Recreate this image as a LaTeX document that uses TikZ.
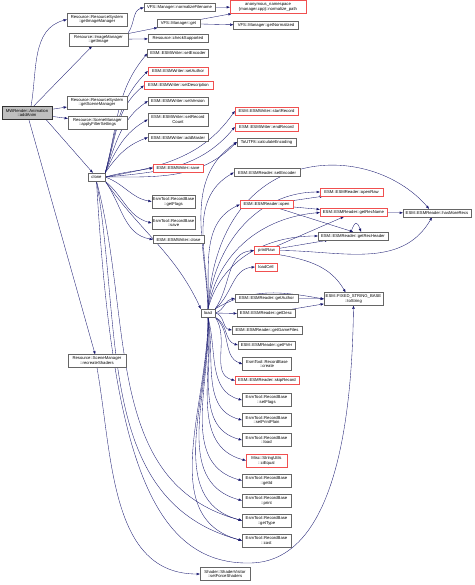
\documentclass[tikz,border=0pt]{standalone}
\usepackage{fontspec}
\setmainfont{Liberation Sans}
\usetikzlibrary{arrows.meta}
\definecolor{edgeblue}{RGB}{25,25,112}
\definecolor{redborder}{RGB}{240,80,80}
\pgfdeclarelayer{edges}
\pgfsetlayers{edges,main}
\begin{document}
\begin{tikzpicture}[x=1pt,y=1pt,
 nbox/.style={draw=black!60, fill=white, line width=0.4pt, font=\fontsize{4.2}{4.9}\selectfont, align=center, inner xsep=1pt, inner ysep=0.5pt, minimum height=8pt},
 tbox/.style={nbox, minimum height=13pt},
 rbox/.style={nbox, draw=redborder},
 rtbox/.style={tbox, draw=redborder},
 cg/.style={draw=edgeblue, line width=0.35pt, -{Triangle[length=3.2pt,width=2.4pt]}}]
\useasboundingbox (0,0) rectangle (474,-585);
% column 0/1
\node[tbox, fill=black!25, draw=black!80, minimum width=50pt] (root) at (27,-113) {MWRender::Animation\\::addAnim};
\node[tbox, minimum width=60pt] (gim) at (97,-19.5) {Resource::ResourceSystem\\::getImageManager};
\node[tbox, minimum width=59pt] (gimg) at (98.5,-39.5) {Resource::ImageManager\\::getImage};
\node[tbox, minimum width=60pt] (gsm) at (97,-102.5) {Resource::ResourceSystem\\::getSceneManager};
\node[tbox, minimum width=59pt] (afs) at (97.5,-122.5) {Resource::SceneManager\\::applyFilterSettings};
\node[nbox, minimum width=17pt] (clone) at (96.5,-177) {clone};
\node[tbox, minimum width=58pt] (rsh) at (97,-361) {Resource::SceneManager\\::recreateShaders};
\node[nbox, minimum width=14pt] (load) at (208,-313) {load};
\node[tbox, minimum width=50pt] (sfs) at (225,-574) {Shader::ShaderVisitor\\::setForceShaders};
% column 2
\node[nbox, minimum width=71pt] (nfn) at (179.5,-7.5) {VFS::Manager::normalizeFilename};
\node[nbox, minimum width=43pt] (vget) at (178.5,-23.5) {VFS::Manager::get};
\node[nbox, minimum width=60pt] (chk) at (178,-38.5) {Resource::checkSupported};
\node[nbox, minimum width=61pt] (wenc) at (178,-53.5) {ESM::ESMWriter::setEncoder};
\node[rbox, minimum width=60pt] (wauth) at (178,-71) {ESM::ESMWriter::setAuthor};
\node[rbox, minimum width=69pt] (wdesc) at (178.5,-85.5) {ESM::ESMWriter::setDescription};
\node[nbox, minimum width=60pt] (wver) at (178,-101) {ESM::ESMWriter::setVersion};
\node[tbox, minimum width=60pt] (wrc) at (178,-119.5) {ESM::ESMWriter::setRecord\\Count};
\node[nbox, minimum width=60pt] (wmas) at (178,-137.5) {ESM::ESMWriter::addMaster};
\node[rbox, minimum width=50pt] (wsave) at (178,-168) {ESM::ESMWriter::save};
\node[tbox, minimum width=39pt] (rgf) at (173.5,-201.5) {EsmTool::RecordBase\\::getFlags};
\node[tbox, minimum width=39pt] (rsave) at (173.5,-223) {EsmTool::RecordBase\\::save};
\node[nbox, minimum width=51pt] (wclose) at (178.5,-239.5) {ESM::ESMWriter::close};
% column 3
\node[rtbox, minimum width=76pt] (npath) at (268,-7) {anonymous\_namespace\\\{manager.cpp\}::normalize\_path};
\node[nbox, minimum width=65pt] (gnorm) at (266,-25.5) {VFS::Manager::getNormalized};
\node[rbox, minimum width=63pt] (wstart) at (266.5,-111) {ESM::ESMWriter::startRecord};
\node[rbox, minimum width=63pt] (wend) at (266.5,-127) {ESM::ESMWriter::endRecord};
\node[nbox, minimum width=59pt] (calc) at (266.5,-142) {ToUTF8::calculateEncoding};
\node[nbox, minimum width=66pt] (renc) at (267,-172.5) {ESM::ESMReader::setEncoder};
\node[rbox, minimum width=53pt] (ropen) at (266.5,-204.5) {ESM::ESMReader::open};
\node[rbox, minimum width=25pt] (praw) at (266.5,-250.5) {printRaw};
\node[rbox, minimum width=22pt] (lcell) at (266,-267) {loadCell};
\node[nbox, minimum width=63pt] (gauth) at (266.5,-298.5) {ESM::ESMReader::getAuthor};
\node[nbox, minimum width=58pt] (gdesc) at (266,-313.5) {ESM::ESMReader::getDesc};
\node[nbox, minimum width=70pt] (ggf) at (267,-330) {ESM::ESMReader::getGameFiles};
\node[nbox, minimum width=57pt] (gfver) at (266.5,-345) {ESM::ESMReader::getFVer};
\node[tbox, minimum width=49pt] (rcre) at (267,-364) {EsmTool::RecordBase\\::create};
\node[rbox, minimum width=64pt] (skip) at (267,-380.5) {ESM::ESMReader::skipRecord};
\node[tbox, minimum width=49pt] (rsf) at (266.5,-400) {EsmTool::RecordBase\\::setFlags};
\node[tbox, minimum width=49pt] (rspp) at (266.5,-420) {EsmTool::RecordBase\\::setPrintPlain};
\node[tbox, minimum width=49pt] (rload) at (266.5,-440) {EsmTool::RecordBase\\::load};
\node[rtbox, minimum width=41pt] (ciq) at (266.5,-460.5) {Misc::StringUtils\\::ciEqual};
\node[tbox, minimum width=49pt] (rgid) at (266.5,-480.5) {EsmTool::RecordBase\\::getId};
\node[tbox, minimum width=49pt] (rprint) at (266.5,-500.5) {EsmTool::RecordBase\\::print};
\node[tbox, minimum width=49pt] (rgt) at (266.5,-520.5) {EsmTool::RecordBase\\::getType};
\node[tbox, minimum width=49pt] (rcast) at (266.5,-540.5) {EsmTool::RecordBase\\::cast};
% column 4/5
\node[rbox, minimum width=63pt] (oraw) at (351.5,-192) {ESM::ESMReader::openRaw};
\node[rbox, minimum width=67pt] (grn) at (353.5,-212.5) {ESM::ESMReader::getRecName};
\node[nbox, minimum width=70pt] (grh) at (353,-236) {ESM::ESMReader::getRecHeader};
\node[tbox, minimum width=59pt] (tostr) at (353.5,-299) {ESM::FIXED\_STRING\_BASE\\::toString};
\node[nbox, minimum width=68pt] (hmr) at (437,-213) {ESM::ESMReader::hasMoreRecs};

\begin{pgfonlayer}{edges}
% root
\draw[cg] ([xshift=4pt]root.north) to[out=80,in=195] (gim.west);
\draw[cg] (root) -- (gimg);
\draw[cg] (root) -- (gsm);
\draw[cg] (root) -- (afs);
\draw[cg] ([xshift=-6pt]root.south east) -- (clone);
\draw[cg] (root) -- (rsh);
\draw[cg] (rsh.south) to[out=-80,in=180] (sfs.west);
% getImage
\draw[cg] (gimg.north east) to[out=55,in=195] (nfn.west);
\draw[cg] (gimg) -- (vget);
\draw[cg] (gimg) -- (chk);
\draw[cg] (vget) -- (npath);
\draw[cg] (vget) -- (gnorm);
\draw[cg] (nfn) -- (npath);
% clone
\draw[cg] (clone.north east) to[out=75,in=230] (wenc.west);
\draw[cg] (clone.north east) to[out=75,in=225] (wauth.west);
\draw[cg] (clone.north east) to[out=72,in=220] (wdesc.west);
\draw[cg] (clone.north east) to[out=70,in=215] (wver.west);
\draw[cg] (clone.north east) to[out=65,in=210] (wrc.west);
\draw[cg] (clone.north east) to[out=55,in=200] (wmas.west);
\draw[cg] (clone.east) to[out=15,in=190] (wsave.west);
\draw[cg] (clone.east) to[out=10,in=235] (wstart.west);
\draw[cg] (clone.east) to[out=5,in=230] (wend.west);
\draw[cg] (clone.east) to[out=0,in=225] (calc.west);
\draw[cg] (clone.east) to[out=-20,in=170] (rgf.west);
\draw[cg] (clone.south east) to[out=-40,in=165] (rsave.west);
\draw[cg] (clone.south east) to[out=-55,in=170] (wclose.west);
\draw[cg] (clone.south east) to[out=-55,in=115] (load.north west);
\draw[cg] (clone.south) to[out=-75,in=165] (rgt.west);
\draw[cg] (clone.south) to[out=-80,in=165] (rcast.west);
\draw[cg] (clone.south) .. controls (112,-450) and (150,-565) .. (250,-563) .. controls (335,-562) and (352,-420) .. (tostr.south);
% load
\draw[cg] (load.north) to[out=92,in=215] (calc.west);
\draw[cg] (load.north) to[out=90,in=210] (renc.west);
\draw[cg] (load.north) to[out=88,in=205] (ropen.west);
\draw[cg] (load.north) to[out=85,in=180] (oraw.west);
\draw[cg] (load.north) to[out=80,in=185] (grn.west);
\draw[cg] (load.north) to[out=75,in=180] (grh.west);
\draw[cg] (load.north) .. controls (218,-140) and (370,-140) .. ([xshift=-8pt]hmr.north);
\draw[cg] (load.north east) to[out=55,in=185] (praw.west);
\draw[cg] (load.north east) to[out=40,in=185] (lcell.west);
\draw[cg] (load.north east) to[out=30,in=170] (tostr.west);
\draw[cg] (load.east) to[out=15,in=185] (gauth.west);
\draw[cg] (load.east) -- (gdesc.west);
\draw[cg] (load.east) to[out=-10,in=170] (ggf.west);
\draw[cg] (load.south east) to[out=-25,in=165] (gfver.west);
\draw[cg] (load.south east) to[out=-40,in=160] (rcre.west);
\draw[cg] (load.south east) to[out=-55,in=165] (skip.west);
\draw[cg] (load.south) to[out=-75,in=165] (rsf.west);
\draw[cg] (load.south) to[out=-80,in=165] (rspp.west);
\draw[cg] (load.south) to[out=-83,in=165] (rload.west);
\draw[cg] (load.south) to[out=-85,in=165] (ciq.west);
\draw[cg] (load.south) to[out=-87,in=165] (rgid.west);
\draw[cg] (load.south) to[out=-88,in=165] (rprint.west);
\draw[cg] (load.south) to[out=-89,in=165] (rgt.west);
\draw[cg] (load.south) to[out=-90,in=165] (rcast.west);
% readers
\draw[cg] (gauth) -- (tostr);
\draw[cg] (gdesc) -- (tostr);
\draw[cg] (ropen) -- (oraw);
\draw[cg] (ropen) -- (grn);
\draw[cg] (ropen) -- (grh.north);
\draw[cg] (praw) -- (grn);
\draw[cg] (praw) -- (grh);
\draw[cg] (praw.east) to[out=0,in=240] ([xshift=-5pt]hmr.south);
\draw[cg] (praw.south east) to[out=-10,in=120] ([xshift=-8pt]tostr.north);
\draw[cg] (grn) -- (hmr);
\draw[cg] ([xshift=-2pt]grh.north) to[out=70,in=110,looseness=3] ([xshift=8pt]grh.north);
\end{pgfonlayer}
\end{tikzpicture}
\end{document}
